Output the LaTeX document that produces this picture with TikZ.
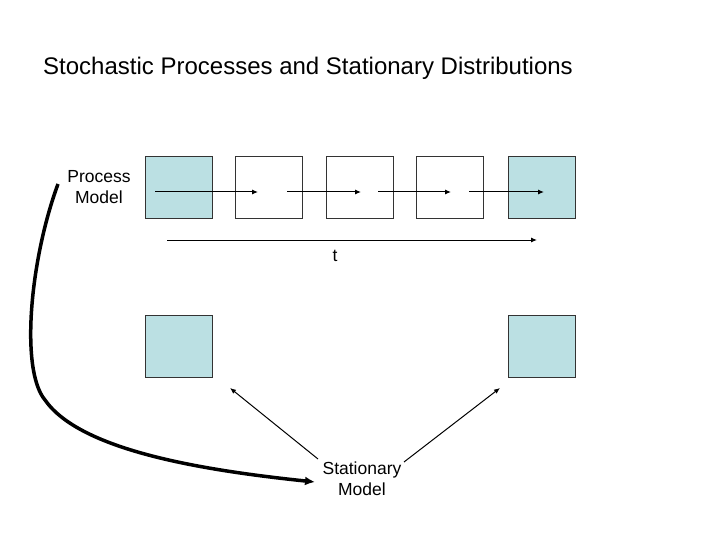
\documentclass[tikz,border=0pt]{standalone}
\usepackage{fontspec}
\setmainfont{Liberation Sans}
\usetikzlibrary{arrows.meta}
\definecolor{boxc}{HTML}{BBE0E3}
\begin{document}
\begin{tikzpicture}[x=1pt,y=-1pt,
  box/.style={draw=black!80,line width=0.8pt,minimum width=67pt,minimum height=62pt,inner sep=0pt},
  cbox/.style={box,fill=boxc},
  wbox/.style={box,fill=white},
  arr/.style={-{Latex[length=6pt,width=5pt]},line width=1pt},
  lbl/.style={font=\fontsize{17.5}{21}\selectfont,align=center,inner sep=1pt}]
\useasboundingbox (0,0) rectangle (720,540);
\node[font=\fontsize{24}{28}\selectfont] (title) at (308,68) {Stochastic Processes and Stationary Distributions};
\node[cbox] (b1) at (178.5,187) {};
\node[wbox] (b2) at (268.5,187) {};
\node[wbox] (b3) at (359.5,187) {};
\node[wbox] (b4) at (450,187) {};
\node[cbox] (b5) at (541.5,187) {};
\node[cbox] (c1) at (178.5,346) {};
\node[cbox] (c2) at (541.5,346) {};
\node[lbl] (pm) at (99,187) {Process\\Model};
\node[lbl] (sm) at (362,479) {Stationary\\Model};
\node[lbl] (t) at (335,256) {t};
\coordinate (a1s) at (155,192); \coordinate (a1e) at (258,192);
\coordinate (a2s) at (287,192); \coordinate (a2e) at (361,192);
\coordinate (a3s) at (378,192); \coordinate (a3e) at (451,192);
\coordinate (a4s) at (469,192); \coordinate (a4e) at (544,192);
\coordinate (ts) at (167,240); \coordinate (te) at (537,240);
\draw[arr] (a1s) -- (a1e);
\draw[arr] (a2s) -- (a2e);
\draw[arr] (a3s) -- (a3e);
\draw[arr] (a4s) -- (a4e);
\draw[arr] (ts) -- (te);
\coordinate (l1) at (318,459); \coordinate (l1e) at (230,388);
\coordinate (r1) at (404,462); \coordinate (r1e) at (500,388);
\draw[arr] (l1) -- (l1e);
\draw[arr] (r1) -- (r1e);
\coordinate (cs) at (58,184);
\draw[-{Latex[length=10pt,width=9pt]},line width=3.5pt] (cs) .. controls (30,260) and (20,370) .. (45,400) .. controls (80,450) and (200,470) .. (315,482);
\end{tikzpicture}
\end{document}
